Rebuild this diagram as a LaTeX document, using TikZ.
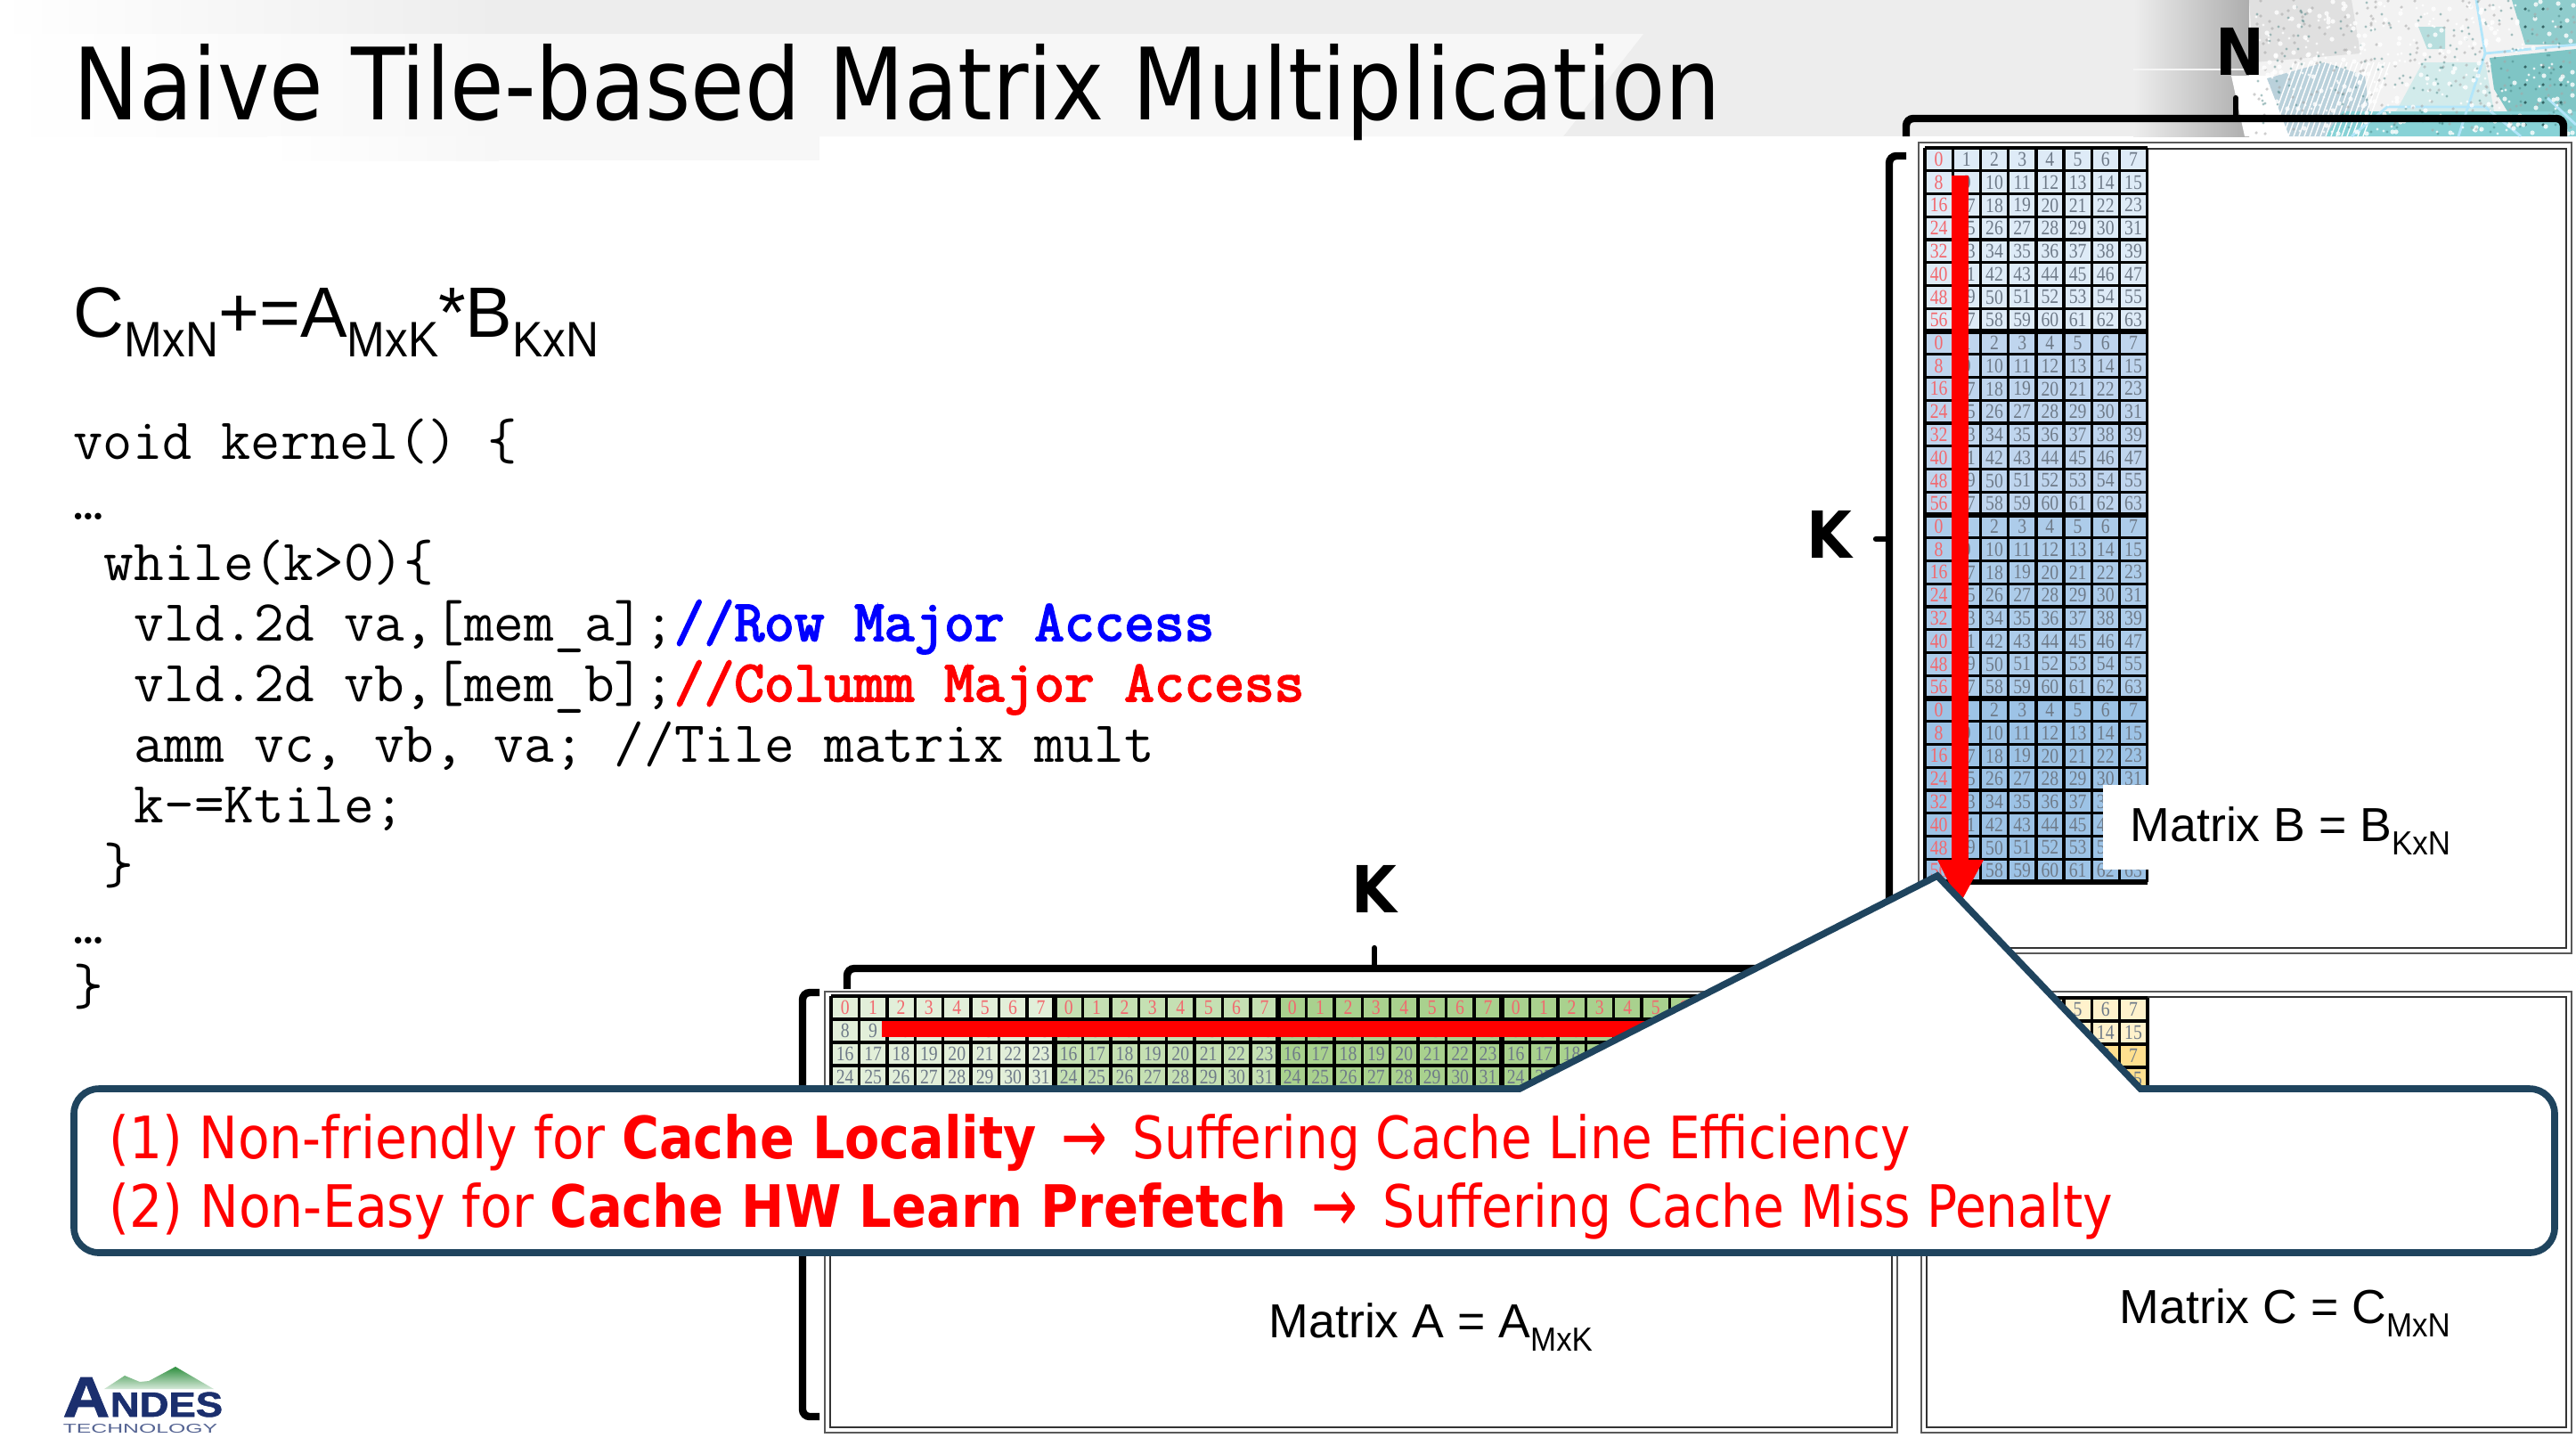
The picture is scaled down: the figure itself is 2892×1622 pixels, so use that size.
\documentclass[tikz,border=0pt]{standalone}
\usepackage{fontspec}
\setmainfont{Liberation Sans}
\setmonofont{Latin Modern Mono}
\newfontfamily\codeb{Latin Modern Mono}[FakeBold=3]
\newfontfamily\tah{DejaVu Sans Condensed}[BoldFont={DejaVu Sans Condensed Bold}]
\newfontfamily\tahb{DejaVu Sans Condensed Bold}
\newfontfamily\heavy{Liberation Sans Bold}[FakeBold=1.5]
\newfontfamily\ser{Liberation Serif}[FakeStretch=0.85]
\definecolor{calloutblue}{HTML}{1F445E}
\definecolor{bandgray}{HTML}{EDEDED}
\definecolor{bandlight}{HTML}{F7F7F7}
\definecolor{tealA}{HTML}{5FB6B6}
\definecolor{tealB}{HTML}{73CACF}
\definecolor{hatchB}{HTML}{A9C6D2}
\definecolor{cellnum}{HTML}{6E7A88}
\definecolor{cellred}{HTML}{F2686E}
\definecolor{andesnavy}{HTML}{1B2F6E}
\definecolor{andesgreen}{HTML}{2F8F3F}
\definecolor{blA}{HTML}{DEEBF7}
\definecolor{blB}{HTML}{BFD5EE}
\definecolor{blC}{HTML}{ADCCEA}
\definecolor{blD}{HTML}{9DC3E6}
\definecolor{grA}{HTML}{E2EFD9}
\definecolor{grB}{HTML}{C5E0B3}
\definecolor{grC}{HTML}{A9D18E}
\definecolor{yeA}{HTML}{FFF2CC}
\definecolor{yeB}{HTML}{FFE08F}
\tikzset{
  frameO/.style={draw=black!65,line width=.6pt,fill=white},
  frameI/.style={draw=black!80,line width=.5pt},
  bracket/.style={draw=black,line width=2.1pt,rounded corners=2pt},
  notch/.style={draw=black,line width=1.6pt,line cap=round},
  codeline/.style={anchor=base west,inner sep=0pt,font=\ttfamily\fontsize{16.35}{16.35}\selectfont},
  cellstyle/.style={inner sep=0pt,font=\ser\fontsize{5.8}{5.8}\selectfont},
  lbl/.style={anchor=base west,inner sep=0pt,font=\fontsize{13.4}{13.4}\selectfont},
  big/.style={inner sep=0pt,font=\tahb\fontsize{18.2}{18.2}\selectfont},
  redtext/.style={anchor=base west,inner sep=0pt,text=red,font=\tah\fontsize{16.4}{16.4}\selectfont},
}
\newcommand{\lowsub}[1]{\raisebox{-.28em}{\scalebox{.93}[1]{\fontsize{.7em}{.7em}\selectfont #1}}}
\newcommand{\bigarrow}{\hspace{2.3pt}\raisebox{-.08em}{\scalebox{1.05}[1.3]{→}}\hspace{2.3pt}}
% name, x, y, cell w, cell h, cols, rows, fill, mode(0 none,1 first col red,2 first row red)
\newcommand{\tilegrid}[9]{%
  \fill[#8] (#2,#3) rectangle ++({#6*#4},{#7*#5});
  \foreach \myr in {1,...,#7}{\foreach \myc in {1,...,#6}{%
    \pgfmathtruncatemacro{\nn}{(\myr-1)*#6+\myc-1}%
    \pgfmathsetmacro{\xx}{#2+(\myc-.5)*#4}%
    \pgfmathsetmacro{\yy}{#3+(\myr-.5)*#5}%
    \def\numcol{cellnum}%
    \ifnum#9=1 \ifnum\myc=1 \def\numcol{cellred}\fi\fi
    \ifnum#9=2 \ifnum\myr=1 \def\numcol{cellred}\fi\fi
    \node[cellstyle,text=\numcol] (#1-\myr-\myc) at (\xx,\yy) {\nn};
  }}
  \foreach \myr in {0,...,#7}{\draw[black,line width=.85pt] (#2,{#3+\myr*#5}) -- ++({#6*#4},0);}
  \foreach \myc in {0,...,#6}{\draw[black,line width=.85pt] ({#2+\myc*#4},#3) -- ++(0,{#7*#5});}
}
\begin{document}
\begin{tikzpicture}[x=0.25pt,y=-0.25pt]
\useasboundingbox (0,0) rectangle (2892,1622);
\fill[white] (0,0) rectangle (2892,1622);
% band
\fill[bandgray] (0,0) rectangle (2400,153);
\shade[left color=white,right color=bandgray] (0,0) rectangle (560,38);
\shade[left color=white,right color=bandlight] (0,38) rectangle (560,153);
\fill[bandlight] (560,38) -- (1845,38) -- (1755,153) -- (560,153) -- cycle;
\shade[left color=white,right color=bandlight] (300,153) rectangle (560,180);
\fill[bandlight] (560,153) rectangle (920,180);
\shade[left color=bandgray,right color=black!32] (2395,0) rectangle (2525,153);
\fill[white!95!black] (2525,0) rectangle (2892,153);
\begin{scope}
\clip (2300,0) rectangle (2892,153);
\fill[black!12] (2525,0) -- (2640,0) -- (2650,60) -- (2530,70) -- cycle;
\fill[white] (2505,85) -- (2560,85) -- (2590,153) -- (2520,153) -- cycle;
\draw[white!60!black!10,line width=.7pt] (2395,78) -- (2540,78);
\fill[hatchB!80!white] (2545,88) -- (2610,70) -- (2655,85) -- (2660,125) -- (2630,153) -- (2570,153) -- cycle;
\fill[tealB!85!white] (2630,125) -- (2892,125) -- (2892,153) -- (2610,153) -- cycle;
\fill[tealA!70!white] (2820,0) -- (2892,0) -- (2892,50) -- (2835,50) -- cycle;
\fill[tealA!80!white] (2795,65) -- (2892,55) -- (2892,125) -- (2815,125) -- (2800,100) -- cycle;
\fill[tealA!45!white] (2715,30) -- (2745,30) -- (2745,55) -- (2725,55) -- cycle;
\fill[tealA!28!white] (2720,70) -- (2790,70) -- (2800,125) -- (2690,125) -- cycle;
\foreach \hh in {0,6,...,110}{\draw[white,line width=.35pt] ({2545+\hh},153) -- ({2575+\hh},70);}
\draw[white!70!cyan,line width=.7pt] (2640,153) -- (2680,120) -- (2790,120) -- (2830,153);
\draw[white!70!cyan,line width=.7pt] (2780,0) -- (2790,60) -- (2892,50);
\draw[white!70!cyan,line width=.7pt] (2860,110) -- (2892,140);
\draw[white!70!cyan,line width=.7pt] (2790,60) -- (2760,153);
\foreach \gx in {2835,2855,2875}{\foreach \gy in {10,30,75,95,115,140}{\fill[tealA!55!black] (\gx,\gy) circle (1.8);}}
\pgfmathsetseed{7}
\foreach \i in {1,...,700}{
  \pgfmathsetmacro{\dx}{2530+random(0,360)}
  \pgfmathsetmacro{\dy}{random(0,150)}
  \pgfmathtruncatemacro{\wh}{random(0,3)}
  \ifnum\wh=0 \fill[black!35,opacity=.55] (\dx,\dy) circle (1.8);
  \else \ifnum\wh=1 \fill[white,opacity=.8] (\dx,\dy) circle (2.6);
  \else \ifnum\wh=2 \fill[white,opacity=.8] (\dx,\dy) circle (1.6);
  \else \fill[tealA!70!black,opacity=.45] (\dx,\dy) circle (1.6);\fi\fi\fi
}
\end{scope}
% frames
\draw[frameO] (2154,160) rectangle (2887,1070);
\draw[frameI] (2160,167) rectangle (2881,1064);
\draw[frameO] (926,1113) rectangle (2130,1608);
\draw[frameI] (932,1119) rectangle (2124,1602);
\draw[frameO] (2157,1113) rectangle (2887,1608);
\draw[frameI] (2163,1119) rectangle (2881,1602);
% grids
\tilegrid{ba}{2161}{166}{31.2}{25.75}{8}{8}{blA}{1}
\tilegrid{bb}{2161}{372}{31.2}{25.75}{8}{8}{blB}{1}
\tilegrid{bc}{2161}{578}{31.2}{25.75}{8}{8}{blC}{1}
\tilegrid{bd}{2161}{784}{31.2}{25.75}{8}{8}{blD}{1}
\draw[black,line width=1.4pt] (2161,372) -- (2411,372) (2161,578) -- (2411,578) (2161,784) -- (2411,784) (2161,990) -- (2411,990);
\tilegrid{aa}{933}{1118}{31.4}{26}{8}{4}{grA}{2}
\tilegrid{ab}{1184}{1118}{31.4}{26}{8}{4}{grB}{2}
\tilegrid{ac}{1435}{1118}{31.4}{26}{8}{4}{grC}{2}
\tilegrid{ad}{1686}{1118}{31.4}{26}{8}{4}{grC}{2}
\draw[black,line width=1.4pt] (1184,1118) -- (1184,1222) (1435,1118) -- (1435,1222) (1686,1118) -- (1686,1222);
\tilegrid{ca}{2161}{1120}{31.2}{26}{8}{2}{yeA}{0}
\tilegrid{cb}{2161}{1172}{31.2}{26}{8}{2}{yeB}{0}
\draw[black,line width=1.2pt] (2411,1120) -- (2411,1224);
% white backing and labels of matrices
\fill[white] (2361,881) rectangle (2420,976);
\node[lbl] (labB) at (2391,944) {Matrix B = B\lowsub{KxN}};
\node[lbl] (labA) at (1424,1501) {Matrix A = A\lowsub{MxK}};
\node[lbl] (labC) at (2379,1485) {Matrix C = C\lowsub{MxN}};
% red arrows
\fill[red] (2191,197) rectangle (2210,965);
\fill[red] (2175,965) -- (2227,965) -- (2200,1015) -- cycle;
\fill[red] (990,1146) rectangle (1900,1164);
% brackets
\draw[bracket] (2140,153) -- (2140,133) -- (2878,133) -- (2878,153);
\draw[notch] (2510,133) -- (2510,110);
\node[big] (nN) at (2515,58) {N};
\draw[bracket] (2140,175) -- (2121,175) -- (2121,1060);
\draw[notch] (2121,605) -- (2106,605);
\node[big] (kK) at (2054,600) {K};
\draw[bracket] (951,1110) -- (951,1087) -- (2000,1087);
\draw[notch] (1543,1087) -- (1543,1064);
\node[big] (kA) at (1543,998) {K};
\draw[bracket] (920,1114) -- (901,1114) -- (901,1590) -- (920,1590);
% callout
\draw[calloutblue,fill=white,line width=1.9pt,line join=miter]
  (1706,1222) -- (2175,983) -- (2403,1222) [rounded corners=7pt] -- (2868,1222) -- (2868,1406) -- (83,1406) -- (83,1222) [sharp corners] -- cycle;
\node[redtext] (r1) at (122,1300) {\scalebox{.986}[1]{(1) Non-friendly for }\scalebox{.968}[1]{\textbf{Cache Locality}} \bigarrow{} \scalebox{.955}[1]{Suffering Cache Line Efficiency}};
\node[redtext] (r2) at (122,1377) {\scalebox{.992}[1]{(2) Non-Easy for }\scalebox{.975}[1]{\textbf{Cache HW Learn Prefetch}} \bigarrow{} \scalebox{.96}[1]{Suffering Cache Miss Penalty}};
% title
\node[anchor=base west,inner sep=0pt,font=\tah\fontsize{28}{28}\selectfont] (title) at (82,134) {\scalebox{.977}[1]{Naive Tile-based Matrix Multiplication}};
% formula
\node[anchor=base west,inner sep=0pt,font=\fontsize{20}{20}\selectfont] (formula) at (82,378) {\scalebox{.985}[1]{C\lowsub{MxN}+=A\lowsub{MxK}*B\lowsub{KxN}}};
% code
\node[codeline] (c1) at (82,515) {\scalebox{.985}[1]{void kernel() \{}};
\node[codeline] (c2) at (82,583) {…};
\node[codeline] (c3) at (116,651) {while(k>0)\{};
\node[codeline] (c4) at (150,719) {vld.2d va,[mem\_a];\textcolor{blue}{\codeb //Row Major Access}};
\node[codeline] (c5) at (150,787) {vld.2d vb,[mem\_b];\textcolor{red}{\codeb //Columm Major Access}};
\node[codeline] (c6) at (150,855) {amm vc, vb, va; //Tile matrix mult};
\node[codeline] (c7) at (150,923) {k-=Ktile;};
\node[codeline] (c8) at (116,991) {\}};
\node[codeline] (c9) at (82,1059) {…};
\node[codeline] (c10) at (82,1127) {\}};
% logo
\shade[top color=andesgreen,bottom color=white!80!andesgreen] (117,1559) -- (140,1544) -- (157,1551) -- (167,1550) -- (197,1534) -- (240,1559) -- cycle;
\node[anchor=base west,inner sep=0pt,text=andesnavy,font=\heavy\fontsize{16}{16}\selectfont] (logoA) at (70,1590) {\scalebox{1.13}[1]{A}};
\node[anchor=base west,inner sep=0pt,text=andesnavy,font=\heavy\fontsize{9.8}{9.8}\selectfont] (logoB) at (123,1590) {\scalebox{1.16}[1]{NDES}};
\node[anchor=base west,inner sep=0pt,text=andesnavy!75!white,font=\fontsize{3.6}{3.6}\selectfont] (logoC) at (70,1608) {\scalebox{1.72}[1]{TECHNOLOGY}};
\end{tikzpicture}
\end{document}
